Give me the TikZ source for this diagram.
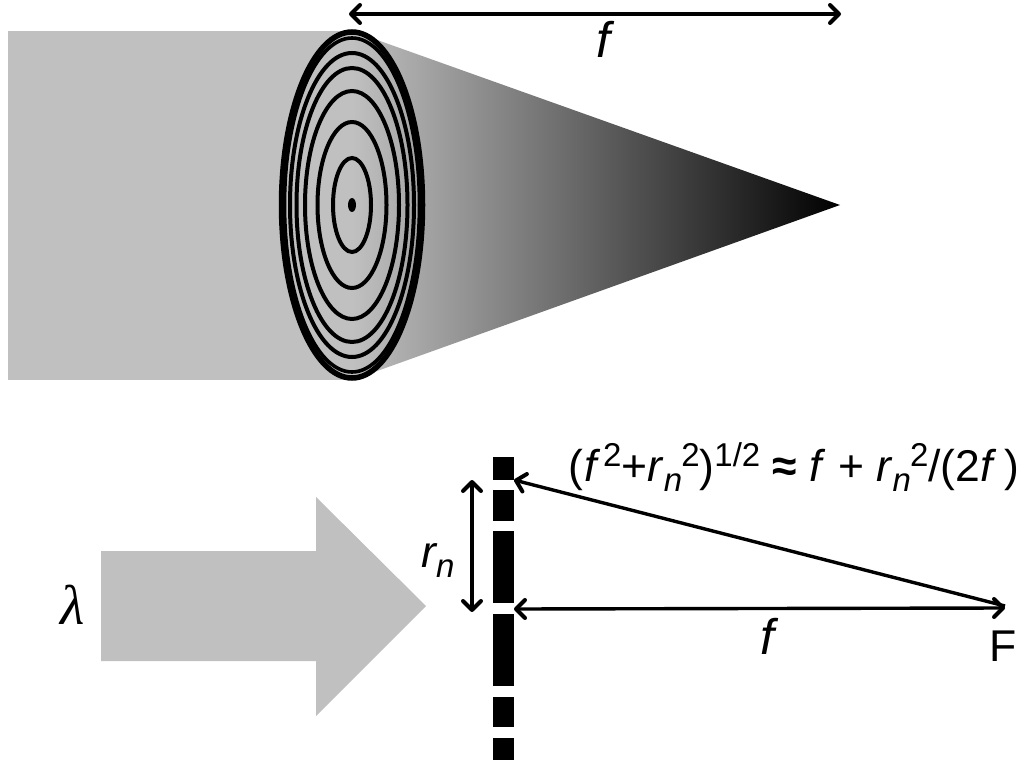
\documentclass[tikz,border=0pt]{standalone}
\usepackage{fontspec}
\setmainfont{Liberation Sans}
\newfontfamily\serifgreek{Liberation Serif}
\usetikzlibrary{arrows.meta}
\definecolor{beam}{HTML}{C0C0C0}
\tikzset{
  barbtip/.tip={Straight Barb[length=9pt,width=18pt,line width=4pt,round]},
  dim/.style={line width=3.4pt,barbtip-barbtip},
  ray/.style={line width=3.4pt,barbtip-},
  zone/.style={draw=black,line width=4pt,fill=none},
  barseg/.style={fill=black,draw=none},
  lbl/.style={inner sep=0pt,font=\fontsize{44.5}{48}\selectfont,anchor=base},
  bigf/.style={lbl,font=\fontsize{50}{54}\selectfont\itshape}
}
\newcommand{\upidx}[1]{\raisebox{15pt}{\fontsize{33}{33}\selectfont #1}}
\newcommand{\dnidx}{\raisebox{-10pt}{\fontsize{33}{33}\selectfont\itshape n}}
\begin{document}
\begin{tikzpicture}[x=1pt,y=-1pt]
\useasboundingbox (0,0) rectangle (1024,767);
\fill[white] (0,0) rectangle (1024,767);
% beam and cone
\fill[beam] (8,31) rectangle (352,380);
\shade[left color=beam,right color=black] (352,31) -- (840,205) -- (352,380) -- cycle;
% zone plate
\coordinate (C) at (352,205);
\draw[zone,line width=5.5pt] (C) ellipse [x radius=70.5,y radius=173];
\draw[zone,line width=3.6pt] (C) ellipse [x radius=67.5,y radius=167];
\draw[zone] (C) ellipse [x radius=62,y radius=152];
\draw[zone] (C) ellipse [x radius=55.5,y radius=137];
\draw[zone] (C) ellipse [x radius=47,y radius=114];
\draw[zone] (C) ellipse [x radius=34.5,y radius=83];
\draw[zone] (C) ellipse [x radius=19,y radius=47];
\fill (C) ellipse [x radius=4,y radius=7];
% top dimension
\coordinate (topL) at (349,14);
\coordinate (topR) at (841,14);
\draw[dim] (topL) -- (topR);
\node[bigf] (ftop) at (603,58) {f};
% big arrow
\fill[beam] (101,551) -- (316,551) -- (316,497) -- (426,606) -- (316,716) -- (316,661) -- (101,661) -- cycle;
\node[lbl,font=\fontsize{56}{60}\selectfont\serifgreek\itshape] (lam) at (73,624) {λ};
% slit bar
\fill[barseg] (493,457) rectangle (514,480);
\fill[barseg] (493,490) rectangle (514,521);
\fill[barseg] (493,531) rectangle (514,603);
\fill[barseg] (493,614) rectangle (514,686);
\fill[barseg] (493,697) rectangle (514,727);
\fill[barseg] (493,738) rectangle (514,760);
% lower arrows
\coordinate (rT) at (472,480);
\coordinate (rB) at (472,612);
\coordinate (slitA) at (514,480);
\coordinate (slitB) at (514,609);
\coordinate (focus) at (1005,606);
\coordinate (focusB) at (1005,608);
\draw[dim] (rT) -- (rB);
\draw[dim] (slitB) -- (focusB);
\draw[ray] (slitA) -- (focus);
\node[lbl] (rn) at (438,567) {\itshape r\dnidx};
\node[bigf] (flow) at (767,654) {f};
\node[lbl] (F) at (1003,661) {F};
\node[lbl,anchor=base west] (eq) at (568,481) {(\kern1pt\textit{f}\kern3pt\upidx{2}+\textit{r}\dnidx\kern-1pt\upidx{2})\upidx{1/2} \textbf{≈} \textit{f} + \textit{r}\dnidx\kern-1pt\upidx{2}/(2\textit{f}\kern8pt)};
\end{tikzpicture}
\end{document}
